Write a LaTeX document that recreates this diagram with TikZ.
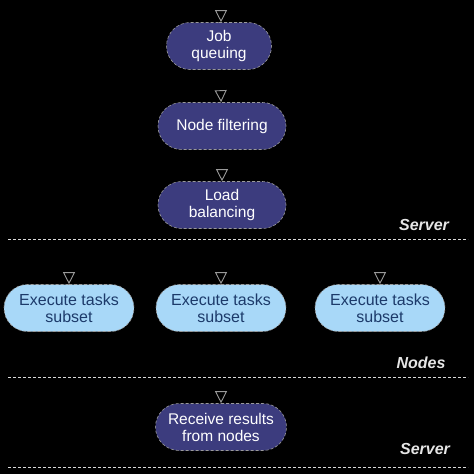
\documentclass[tikz,border=0pt]{standalone}
\usepackage{fontspec}
\setmainfont{Liberation Sans}
\usetikzlibrary{shapes.misc,arrows.meta}
\definecolor{darkfill}{HTML}{3C3C7E}
\definecolor{lightfill}{HTML}{A8D8F8}
\definecolor{lighttext}{HTML}{1C3A6A}
\definecolor{edgegray}{HTML}{9A9A9A}
\begin{document}
\begin{tikzpicture}[x=1pt,y=-1pt,
  srv/.style={rounded rectangle, fill=darkfill, draw=edgegray, densely dashed, line width=0.6pt,
    text=white, font=\fontsize{15.5}{17}\selectfont, align=center, minimum height=47pt, inner sep=1pt},
  nod/.style={rounded rectangle, fill=lightfill, draw=edgegray, densely dashed, line width=0.6pt,
    text=lighttext, font=\fontsize{16}{17}\selectfont, align=center, minimum width=132pt, minimum height=47pt, inner sep=1pt},
  conn/.style={draw=black, line width=0.6pt, -{Triangle[open, width=12pt, length=12pt, color=edgegray, line width=0.9pt]}},
  sep/.style={draw=white!85!black, dashed, dash pattern=on 3pt off 2pt, line width=0.7pt},
  lbl/.style={text=white!90!black, font=\bfseries\itshape\fontsize{16}{17}\selectfont}
]
\useasboundingbox[fill=black] (0,0) rectangle (474,474);

% server nodes
\node[srv, minimum width=107pt] (job) at (219,46) {Job\\queuing};
\node[srv, minimum width=130pt] (filt) at (222,126) {Node filtering};
\node[srv, minimum width=130pt] (load) at (222,205) {Load\\balancing};

% worker nodes
\node[nod] (ex1) at (69,308) {Execute tasks\\subset};
\node[nod] (ex2) at (221,308) {Execute tasks\\subset};
\node[nod] (ex3) at (380,308) {Execute tasks\\subset};

% final server node
\node[srv, minimum width=133pt] (recv) at (221,427) {Receive results\\from nodes};

% free ends
\coordinate (in0) at (221,0);
\coordinate (in1) at (69,250);
\coordinate (in2) at (221,250);
\coordinate (in3) at (380,250);
\coordinate (in4) at (221,381);

% connectors
\draw[conn] (in0) -- (job.north -| in0);
\draw[conn] (job) -- (filt);
\draw[conn] (filt) -- (load);
\draw[conn] (in1) -- (ex1);
\draw[conn] (in2) -- (ex2);
\draw[conn] (in3) -- (ex3);
\draw[conn] (in4) -- (recv);

% separators
\coordinate (s1a) at (8,239);  \coordinate (s1b) at (468,239);
\coordinate (s2a) at (8,377);  \coordinate (s2b) at (468,377);
\coordinate (s3a) at (8,467);  \coordinate (s3b) at (468,467);
\draw[sep] (s1a) -- (s1b);
\draw[sep] (s2a) -- (s2b);
\draw[sep] (s3a) -- (s3b);

% labels
\node[lbl] (l1) at (424,225) {Server};
\node[lbl] (l2) at (421,363) {Nodes};
\node[lbl] (l3) at (425,449) {Server};
\end{tikzpicture}
\end{document}
